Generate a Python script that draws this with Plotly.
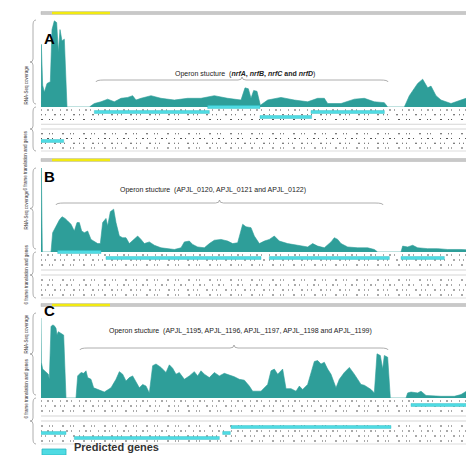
import plotly.graph_objects as go

W, H = 474, 455
# coverage profiles (x = track position, y = relative coverage)
xA = [100,101,105,110,118,128,133,140,147,152,157,163,170,178,245,260,280,300,320,340,360,375,385,400,430,460,500,540,580,620,660,700,712,722,730,738,748,758,780,820,860,900,930,950,960,1000,1040,1070,1100,1130,1140,1190,1205,1230,1245,1260,1270,1285,1300,1330,1360,1375,1390,1405]
yA = [0,72,25,17,27,29,89,99,97,63,89,76,78,0,0,4,6,9,6,10,11,13,8,10,13,10,8,10,10,13,10,8,22,21,10,19,18,2,8,11,8,6,10,10,4,4,9,10,6,5,0,0,13,27,32,22,24,13,8,4,8,10,8,10]
xB = [100,101,104,130,135,145,155,163,172,180,190,200,208,215,222,230,240,250,260,270,278,285,295,300,308,318,325,335,345,355,365,380,390,400,410,425,440,460,480,500,520,530,545,555,570,590,605,620,640,660,675,690,705,715,730,740,755,770,785,800,815,840,870,900,915,930,950,970,980,990,1000,1020,1050,1080,1100,1110,1180,1185,1200,1215,1230,1260,1290,1320,1360,1405]
yB = [0,100,0,0,23,31,38,42,40,37,33,25,35,35,25,23,25,15,12,10,10,35,40,31,48,51,35,19,17,17,10,15,19,15,10,12,8,5,4,3,5,12,13,9,6,5,10,14,15,13,10,11,33,30,29,19,10,13,15,19,13,10,8,6,10,7,5,12,17,15,10,6,5,5,3,0,0,7,6,8,5,4,4,3,3,2]
xC = [100,101,105,115,122,125,130,135,140,145,148,152,160,168,175,205,210,220,228,235,240,250,258,270,290,310,325,335,345,355,365,375,385,395,405,415,425,435,445,460,475,485,495,505,515,530,545,560,570,580,590,605,620,635,650,665,680,695,710,725,735,760,780,790,800,810,825,835,850,865,875,885,900,920,930,940,950,960,970,985,995,1010,1025,1040,1060,1070,1090,1100,1108,1118,1125,1130,1140,1148,1195,1200,1210,1230,1240,1255,1300,1340,1360,1380,1395,1405]
yC = [94,42,34,30,28,22,84,86,85,82,74,78,76,74,0,0,26,30,29,32,24,22,12,10,7,12,22,31,28,20,24,26,18,12,16,14,6,38,40,36,30,39,35,28,30,22,26,31,26,32,28,24,30,26,29,27,25,22,21,14,8,8,16,32,34,28,34,11,11,8,14,10,16,43,44,40,42,34,28,12,22,30,36,28,16,15,10,6,52,50,34,50,48,0,0,6,7,6,8,3,2,2,4,9,11,9]
# predicted genes: (start, end, row pixel y)
genesA = [(260,605,104),(910,1130,104),(600,757,99),(757,912,109),(100,168,133)]
genesB = [(150,280,244),(295,760,250),(785,1145,250),(1180,1310,250)]
genesC = [(1210,1400,397),(670,1150,419),(95,175,425),(645,668,425),(200,635,430)]
panels = [
    dict(letter="A", x=xA, y=yA, genes=genesA, top=12, base=99, bar=5, trk=(99,143),
         title="Operon stucture  (<b><i>nrfA</i>, <i>nrfB</i>, <i>nrfC</i> and <i>nrfD</i></b>)",
         ty=60, tx=237, br=(88,380,72)),
    dict(letter="B", x=xB, y=yB, genes=genesB, top=160, base=244, bar=152, trk=(244,290),
         title="Operon stucture  (APJL_0120, APJL_0121 and APJL_0122)",
         ty=182, tx=205, br=(48,375,195)),
    dict(letter="C", x=xC, y=yC, genes=genesC, top=305, base=390, bar=297, trk=(390,436),
         title="Operon stucture  (APJL_1195, APJL_1196, APJL_1197, APJL_1198 and APJL_1199)",
         ty=329, tx=232, br=(72,380,340)),
]
TEAL = "#2e9e99"; CYAN = "#4fdbe3"
X0, X1 = 33, 468
FONT = "Liberation Sans, Arial"

fig = go.Figure()
shapes, ann = [], []
px = lambda x: x / W
py = lambda y: 1 - y / H

def hbrace(x0, x1, y):
    m = (x0 + x1) / 2
    return (f"M{px(x0)},{py(y+2)} Q{px(x0)},{py(y)} {px(x0+8)},{py(y)} L{px(m-4)},{py(y)} "
            f"Q{px(m)},{py(y)} {px(m)},{py(y-3)} Q{px(m)},{py(y)} {px(m+4)},{py(y)} "
            f"L{px(x1-8)},{py(y)} Q{px(x1)},{py(y)} {px(x1)},{py(y+2)}")

def vbrace(x, y0, y1):
    m = (y0 + y1) / 2
    return (f"M{px(x+3)},{py(y0)} Q{px(x)},{py(y0)} {px(x)},{py(y0+5)} L{px(x)},{py(m-3)} "
            f"Q{px(x)},{py(m)} {px(x-3)},{py(m)} Q{px(x)},{py(m)} {px(x)},{py(m+3)} "
            f"L{px(x)},{py(y1-5)} Q{px(x)},{py(y1)} {px(x+3)},{py(y1)}")

dashes = ["1px,5px,2px,3px,1px,7px", "1px,3px,1px,8px,2px,4px", "2px,6px,1px,2px,1px,9px"]
for i, p in enumerate(panels):
    ax = "" if i == 0 else str(i + 1)
    fig.add_trace(go.Scatter(x=p["x"], y=p["y"], mode="lines", fill="tozeroy",
                             line=dict(color=TEAL, width=0.6), fillcolor=TEAL,
                             xaxis="x" + ax, yaxis="y" + ax, hoverinfo="skip", showlegend=False))
    dom = [py(p["base"]), py(p["top"])]
    fig.update_layout(**{
        f"xaxis{ax}": dict(domain=[px(X0), px(X1)], range=[100, 1405], visible=False, anchor="y" + ax),
        f"yaxis{ax}": dict(domain=dom, range=[0, 100], visible=False, anchor="x" + ax),
    })
    xr = "x" + ax
    # header bar
    shapes.append(dict(type="rect", xref="paper", yref="paper", x0=px(33), x1=px(470), y0=py(p["bar"]+1.5), y1=py(p["bar"]-1.5),
                       fillcolor="#c8c8c8", line=dict(color="#a8a8a8", width=0.4)))
    shapes.append(dict(type="rect", xref="paper", yref="paper", x0=px(44), x1=px(102), y0=py(p["bar"]+1.2), y1=py(p["bar"]-1.2),
                       fillcolor="#f2ea10", line=dict(width=0)))
    shapes.append(dict(type="rect", xref="paper", yref="paper", x0=px(468), x1=px(470), y0=py(p["bar"]+2.5), y1=py(p["bar"]-2.5),
                       fillcolor="black", line=dict(width=0)))
    # track rows
    t0, t1 = p["trk"]
    n = 9
    for k in range(n):
        yy = t0 + 3 + k * (t1 - t0 - 6) / (n - 1)
        if k in (3, 4):
            shapes.append(dict(type="line", xref="paper", yref="paper", x0=px(X0), x1=px(X1), y0=py(yy), y1=py(yy),
                               line=dict(color="#aaa", width=0.5)))
        else:
            shapes.append(dict(type="line", xref="paper", yref="paper", x0=px(X0), x1=px(X1), y0=py(yy), y1=py(yy),
                               line=dict(color="#555", width=1.2, dash=dashes[k % 3])))
    shapes.append(dict(type="line", xref="paper", yref="paper", x0=px(X0), x1=px(X1), y0=py(t1), y1=py(t1),
                       line=dict(color="#bbb", width=0.5)))
    for (s, e, yy) in p["genes"]:
        shapes.append(dict(type="rect", xref=xr, yref="paper", x0=s, x1=e, y0=py(yy+1.5), y1=py(yy-1.5),
                           fillcolor=CYAN, line=dict(color="#2bb8c0", width=0.4)))
    shapes.append(dict(type="path", xref="paper", yref="paper", path=hbrace(*p["br"]),
                       line=dict(color="#999", width=0.8)))
    shapes.append(dict(type="path", xref="paper", yref="paper", path=vbrace(25, p["top"], p["base"] - 3),
                       line=dict(color="#999", width=0.8)))
    shapes.append(dict(type="path", xref="paper", yref="paper", path=vbrace(25, p["base"], t1),
                       line=dict(color="#999", width=0.8)))
    ann.append(dict(text=p["title"], x=px(p["tx"]), y=py(p["ty"]), xref="paper", yref="paper", showarrow=False,
                    font=dict(size=7, family=FONT, color="#222")))
    ann.append(dict(text="<b>" + p["letter"] + "</b>", x=px(34), y=py(p["top"] + 8), xref="paper", yref="paper",
                    xanchor="left", showarrow=False, font=dict(size=15, family=FONT, color="black")))
    ann.append(dict(text="RNA-Seq coverage", x=px(13), y=py((p["top"] + p["base"]) / 2), xref="paper", yref="paper",
                    textangle=-90, showarrow=False, font=dict(size=4.5, family=FONT, color="#333")))
    ann.append(dict(text="6 frame translation and genes", x=px(13), y=py((p["base"] + t1) / 2), xref="paper", yref="paper",
                    textangle=-90, showarrow=False, font=dict(size=4.5, family=FONT, color="#333")))

# legend
shapes.append(dict(type="rect", xref="paper", yref="paper", x0=px(34), x1=px(58), y0=py(447), y1=py(441),
                   fillcolor=CYAN, line=dict(color="#2bb8c0", width=0.8)))
ann.append(dict(text="<b>Predicted genes</b>", x=px(64), y=py(447), xref="paper", yref="paper", xanchor="left",
                showarrow=False, font=dict(size=11, family=FONT, color="#333")))

fig.update_layout(width=W, height=H, margin=dict(l=0, r=0, t=0, b=0), paper_bgcolor="white",
                  plot_bgcolor="rgba(0,0,0,0)", shapes=shapes, annotations=ann, showlegend=False)
fig.write_html("out.html")
